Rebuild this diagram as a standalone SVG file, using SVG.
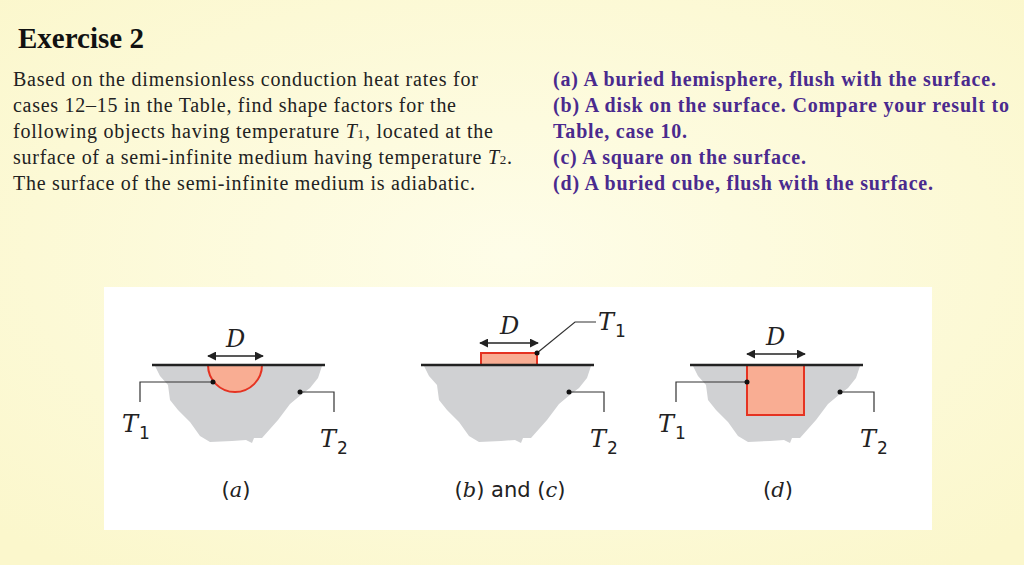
<svg xmlns="http://www.w3.org/2000/svg" width="1024" height="565" viewBox="0 0 1024 565">
<defs>
<radialGradient id="bg" cx="0.5" cy="0.45" r="0.7"><stop offset="0" stop-color="#fefde8"/><stop offset="1" stop-color="#fbf7cc"/></radialGradient>
<marker id="ah" viewBox="0 0 10 10" refX="9" refY="5" markerWidth="9" markerHeight="9" markerUnits="userSpaceOnUse" orient="auto-start-reverse"><path d="M0,0 L10,5 L0,10 z" fill="#222"/></marker>
</defs>
<style>
.t{font-family:"Liberation Serif",serif;font-size:20px;fill:#222}
.p{font-family:"Liberation Serif",serif;font-size:20px;font-weight:bold;fill:#4a2a8e}
.surf{stroke:#222;stroke-width:2.5}
.ld{stroke:#333;stroke-width:1.2;fill:none}
.dot{fill:#111}
.obj{fill:#f9ad93;stroke:#e53322;stroke-width:2}
.gray{fill:#d0d1d3}
.arr{stroke:#222;stroke-width:1.5;marker-start:url(#ah);marker-end:url(#ah)}
.it{font-family:"DejaVu Serif","Liberation Serif",serif;font-style:italic;font-size:24px;fill:#222}
.sub{font-family:"DejaVu Sans",sans-serif;font-style:normal;font-size:17px;fill:#222}
.cap{font-family:"DejaVu Sans",sans-serif;font-size:21px;fill:#222}
</style>
<rect width="1024" height="565" fill="url(#bg)"/>
<text x="18" y="48" font-family="Liberation Serif,serif" font-size="29" font-weight="bold" fill="#111">Exercise 2</text>
<g class="t">
<text x="13" y="86" textLength="465">Based on the dimensionless conduction heat rates for</text>
<text x="13" y="112" textLength="443">cases 12–15 in the Table, find shape factors for the</text>
<text x="13" y="138" textLength="480">following objects having temperature <tspan font-style="italic">T</tspan><tspan font-size="13">1</tspan>, located at the</text>
<text x="13" y="164" textLength="499">surface of a semi-infinite medium having temperature <tspan font-style="italic">T</tspan><tspan font-size="13">2</tspan>.</text>
<text x="13" y="190" textLength="462">The surface of the semi-infinite medium is adiabatic.</text>
</g>
<g class="p">
<text x="553" y="86" textLength="443">(a) A buried hemisphere, flush with the surface.</text>
<text x="553" y="112" textLength="456">(b) A disk on the surface. Compare your result to</text>
<text x="553" y="138" textLength="134">Table, case 10.</text>
<text x="553" y="164" textLength="253">(c) A square on the surface.</text>
<text x="553" y="190" textLength="380">(d) A buried cube, flush with the surface.</text>
</g>
<rect x="104" y="287" width="828" height="243" fill="#fff"/>
<g id="a">
<path class="gray" d="M155,366 L322,366 L318,378 L310,388 L302,394 L290,404 L278,420 L262,438 L254,438 L252,443 L246,440 L232,441 L210,442 L200,436 L190,422 L178,410 L170,400 L168,385 L160,376 Z"/>
<path class="obj" d="M208,365 A27,27 0 0 0 262,365"/>
<line class="surf" x1="152" y1="365" x2="325" y2="365"/>
<line class="arr" x1="208" y1="356" x2="263" y2="356"/>
<text class="it" x="226" y="347">D</text>
<polyline class="ld" points="213,382 140,382 140,402"/><circle class="dot" cx="213" cy="382" r="2.5"/>
<polyline class="ld" points="300,392 334,392 334,412"/><circle class="dot" cx="300" cy="392" r="2.5"/>
<text class="it" x="122" y="432">T<tspan class="sub" dx="1" dy="7">1</tspan></text>
<text class="it" x="320" y="447">T<tspan class="sub" dx="1" dy="7">2</tspan></text>
<text class="cap" x="236" y="497" text-anchor="middle">(<tspan font-family="DejaVu Serif,serif" font-style="italic">a</tspan>)</text>
</g>
<g id="bc">
<path class="gray" d="M424,366 L591,366 L587,378 L579,388 L571,394 L559,404 L547,420 L531,438 L523,438 L521,443 L515,440 L501,441 L479,442 L469,436 L459,422 L447,410 L439,400 L437,385 L429,376 Z"/>
<rect class="obj" x="481" y="353" width="56" height="12"/>
<line class="surf" x1="421" y1="365" x2="594" y2="365"/>
<line class="arr" x1="480" y1="343" x2="538" y2="343"/>
<text class="it" x="500" y="334">D</text>
<polyline class="ld" points="537,353 575,322 596,322"/><circle class="dot" cx="537" cy="353" r="2.5"/>
<text class="it" x="598" y="330">T<tspan class="sub" dx="1" dy="7">1</tspan></text>
<polyline class="ld" points="569,392 604,392 604,412"/><circle class="dot" cx="569" cy="392" r="2.5"/>
<text class="it" x="590" y="447">T<tspan class="sub" dx="1" dy="7">2</tspan></text>
<text class="cap" x="510" y="497" text-anchor="middle">(<tspan font-family="DejaVu Serif,serif" font-style="italic">b</tspan>) and (<tspan font-family="DejaVu Serif,serif" font-style="italic">c</tspan>)</text>
</g>
<g id="d">
<path class="gray" d="M693,366 L860,366 L856,378 L848,388 L840,394 L828,404 L816,420 L800,438 L792,438 L790,443 L784,440 L770,441 L748,442 L738,436 L728,422 L716,410 L708,400 L706,385 L698,376 Z"/>
<rect class="obj" x="747" y="365" width="57" height="50"/>
<line class="surf" x1="690" y1="365" x2="863" y2="365"/>
<line class="arr" x1="747" y1="354" x2="805" y2="354"/>
<text class="it" x="766" y="345">D</text>
<polyline class="ld" points="747,382 676,382 676,402"/><circle class="dot" cx="747" cy="382" r="2.5"/>
<polyline class="ld" points="840,392 874,392 874,412"/><circle class="dot" cx="840" cy="392" r="2.5"/>
<text class="it" x="658" y="432">T<tspan class="sub" dx="1" dy="7">1</tspan></text>
<text class="it" x="860" y="447">T<tspan class="sub" dx="1" dy="7">2</tspan></text>
<text class="cap" x="778" y="497" text-anchor="middle">(<tspan font-family="DejaVu Serif,serif" font-style="italic">d</tspan>)</text>
</g>
</svg>
